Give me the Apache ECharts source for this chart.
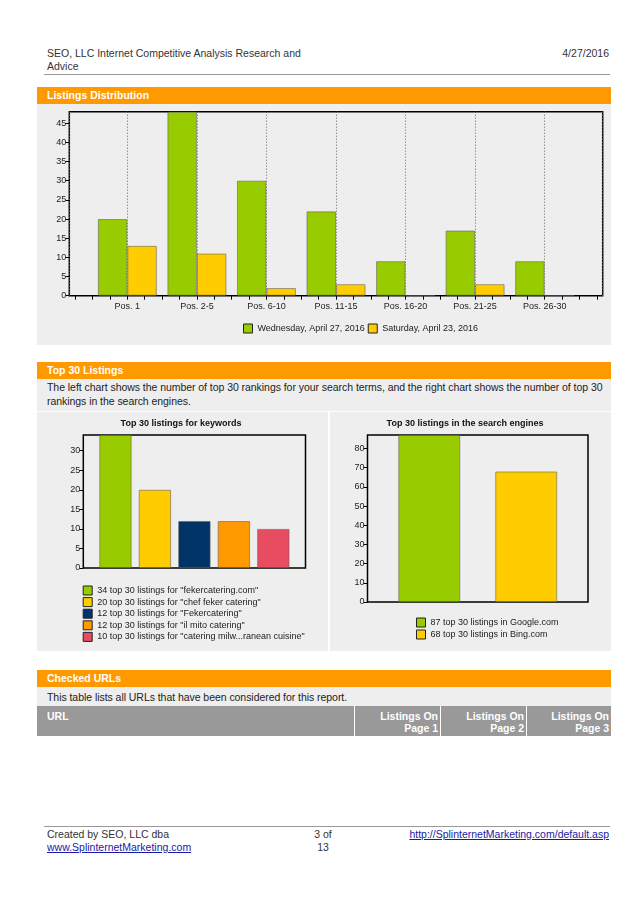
<!DOCTYPE html>
<html>
<head>
<meta charset="utf-8">
<script src="https://cdn.jsdelivr.net/npm/echarts@6/dist/echarts.min.js"></script>
<style>
  html, body { margin:0; padding:0; background:#fff; }
  body { width:638px; height:902px; position:relative; overflow:hidden;
         font-family:"Liberation Sans", Arial, sans-serif; color:#333; }
  .abs { position:absolute; }
  .hdr { font-size:10.5px; line-height:13px; color:#333; }
  .bar { background:#ff9900; color:#fff; font-weight:bold; font-size:10.5px;
         line-height:17px; height:17px; left:37px; width:574px; box-sizing:border-box; padding-left:10px; }
  .gray { background:#eeeeee; }
  .desc { font-size:10.5px; line-height:14px; color:#222; box-sizing:border-box; padding:1px 4px 0 10px; white-space:nowrap; letter-spacing:-0.05px; }
  .th { background:#999999; color:#fff; font-weight:bold; font-size:10.5px; line-height:12px;
        top:706px; height:30px; box-sizing:border-box; padding-top:4px; }
  .thr { text-align:right; padding-right:2px; }
  a { color:#1a1aa6; }
  #chart { position:absolute; left:0; top:0; width:638px; height:902px; z-index:2; }
</style>
</head>
<body>
<div class="abs hdr" style="left:47px;top:47px;">SEO, LLC Internet Competitive Analysis Research and<br>Advice</div>
<div class="abs hdr" style="right:29px;top:47px;">4/27/2016</div>
<div class="abs" style="left:44px;top:74px;width:566px;height:1px;background:#999;"></div>

<div class="abs bar" style="top:87px;">Listings Distribution</div>
<div class="abs gray" style="left:37px;top:104px;width:574px;height:241px;"></div>

<div class="abs bar" style="top:362px;">Top 30 Listings</div>
<div class="abs gray desc" style="left:37px;top:379px;width:574px;height:32px;">The left chart shows the number of top 30 rankings for your search terms, and the right chart shows the number of top 30<br>rankings in the search engines.</div>
<div class="abs gray" style="left:37px;top:412px;width:291px;height:239px;"></div>
<div class="abs gray" style="left:330px;top:412px;width:281px;height:239px;"></div>

<div class="abs bar" style="top:670px;">Checked URLs</div>
<div class="abs gray desc" style="left:37px;top:687px;width:574px;height:19px;padding-top:3px;">This table lists all URLs that have been considered for this report.</div>
<div class="abs th" style="left:37px;width:317px;padding-left:10px;">URL</div>
<div class="abs th thr" style="left:355px;width:85px;">Listings On<br>Page 1</div>
<div class="abs th thr" style="left:441px;width:85px;">Listings On<br>Page 2</div>
<div class="abs th thr" style="left:527px;width:84px;">Listings On<br>Page 3</div>

<div class="abs" style="left:44px;top:826px;width:566px;height:1px;background:#999;"></div>
<div class="abs hdr" style="left:47px;top:828px;">Created by SEO, LLC dba<br><a href="#">www.SplinternetMarketing.com</a></div>
<div class="abs hdr" style="left:298px;top:828px;width:50px;text-align:center;">3 of<br>13</div>
<div class="abs hdr" style="right:29px;top:828px;"><a href="#">http://SplinternetMarketing.com/default.asp</a></div>

<div id="chart"></div>
<script>
// ---- data ----
const categories = ['Pos. 1', 'Pos. 2-5', 'Pos. 6-10', 'Pos. 11-15', 'Pos. 16-20', 'Pos. 21-25', 'Pos. 26-30'];
const wedValues = [20, 48, 30, 22, 9, 17, 9];
const satValues = [13, 11, 2, 3, 0, 3, 0];
const dateNames = ['Wednesday, April 27, 2016', 'Saturday, April 23, 2016'];
const yTicks1 = [0, 5, 10, 15, 20, 25, 30, 35, 40, 45];

const keywords = ['fekercatering.com', 'chef feker catering', 'Fekercatering', 'il mito catering', 'catering milw...ranean cuisine'];
const keywordValues = [34, 20, 12, 12, 10];
const yTicks2 = [0, 5, 10, 15, 20, 25, 30];

const engines = ['Google.com', 'Bing.com'];
const engineValues = [87, 68];
const yTicks3 = [0, 10, 20, 30, 40, 50, 60, 70, 80];

// ---- styles ----
const FONT = '"Liberation Sans", Arial, sans-serif';
const kwColors = ['#99cc00', '#ffcc00', '#003366', '#ff9900', '#e84c61'];
const engColors = ['#99cc00', '#ffcc00'];
const border = { borderColor: 'rgba(90,90,90,0.55)', borderWidth: 1 };

const catPos = categories.map((c, i) => i + 1);
const quarterTicks = [];
for (let i = 1; i <= 31; i++) quarterTicks.push(i * 0.25);

const kwNames = keywords.map((k, i) => keywordValues[i] + ' top 30 listings for "' + k + '"');
const engNames = engines.map((e, i) => engineValues[i] + ' top 30 listings in ' + e);

const chart = echarts.init(document.getElementById('chart'), null, { renderer: 'canvas' });

const gridBase = { show: true, borderColor: '#000', borderWidth: 1.5, backgroundColor: 'transparent', containLabel: false };
const yAxisBase = (gi, max, ticks) => ({
  gridIndex: gi, type: 'value', min: 0, max: max,
  axisLine: { show: false },
  axisTick: { show: true, customValues: ticks, length: 4, lineStyle: { color: '#000', width: 1 } },
  axisLabel: { customValues: ticks, fontSize: 9, color: '#222', margin: 3, fontFamily: FONT },
  splitLine: { show: false }
});
const legendBase = {
  icon: 'rect', itemWidth: 9, itemHeight: 9, padding: 0,
  textStyle: { fontSize: 9, color: '#222', fontFamily: FONT },
  itemStyle: { borderColor: '#222', borderWidth: 1 },
  selectedMode: false
};

const series = [];
series.push({
  type: 'bar', name: dateNames[0], xAxisIndex: 0, yAxisIndex: 0,
  data: wedValues.map((v, i) => [catPos[i], v]),
  barWidth: 29.5, barGap: '0%',
  itemStyle: Object.assign({ color: '#99cc00' }, border)
});
series.push({
  type: 'bar', name: dateNames[1], xAxisIndex: 0, yAxisIndex: 0,
  data: satValues.map((v, i) => [catPos[i], v]),
  barWidth: 29.5, barGap: '0%',
  itemStyle: Object.assign({ color: '#ffcc00' }, border)
});
keywordValues.forEach((v, i) => {
  series.push({
    type: 'bar', name: kwNames[i], xAxisIndex: 2, yAxisIndex: 1,
    data: [[i + 1, v]], barWidth: 32.4, barGap: '-100%',
    itemStyle: Object.assign({ color: kwColors[i] }, border)
  });
});
engineValues.forEach((v, i) => {
  series.push({
    type: 'bar', name: engNames[i], xAxisIndex: 3, yAxisIndex: 2,
    data: [[i + 1, v]], barWidth: 62, barGap: '-100%',
    itemStyle: Object.assign({ color: engColors[i] }, border)
  });
});

chart.setOption({
  animation: false,
  textStyle: { fontFamily: FONT },
  grid: [
    Object.assign({ left: 69.3, top: 111.7, width: 533.4, height: 184 }, gridBase),
    Object.assign({ left: 83.3, top: 435, width: 222.2, height: 133 }, gridBase),
    Object.assign({ left: 367.5, top: 435, width: 220.5, height: 167 }, gridBase)
  ],
  xAxis: [
    {
      gridIndex: 0, type: 'value', min: 0.1655, max: 7.8345,
      axisLine: { show: false },
      axisTick: { show: true, customValues: quarterTicks, length: 4, lineStyle: { color: '#000', width: 1 } },
      axisLabel: { customValues: catPos, fontSize: 9, color: '#222', margin: 6, fontFamily: FONT,
                   formatter: v => categories[Math.round(v) - 1] || '' },
      splitLine: { show: false }
    },
    {
      gridIndex: 0, type: 'value', min: 0.1655, max: 7.8345, splitNumber: 7,
      axisLine: { show: false }, axisTick: { show: false }, axisLabel: { show: false },
      splitLine: { show: true, lineStyle: { color: '#666', type: [1, 2], width: 1 } }
    },
    { gridIndex: 1, type: 'value', min: 0.185, max: 5.815, show: false },
    { gridIndex: 2, type: 'value', min: 0.363, max: 2.637, show: false }
  ],
  yAxis: [
    yAxisBase(0, 48, yTicks1),
    yAxisBase(1, 34, yTicks2),
    yAxisBase(2, 87, yTicks3)
  ],
  legend: [
    Object.assign({ data: dateNames, orient: 'horizontal', left: 243, top: 323.5, itemGap: 3 }, legendBase),
    Object.assign({ data: kwNames, orient: 'vertical', left: 82.7, top: 585.5, itemGap: 1.6 }, legendBase),
    Object.assign({ data: engNames, orient: 'vertical', left: 416, top: 617.5, itemGap: 2 }, legendBase)
  ],
  graphic: [
    { type: 'text', x: 181, y: 424, style: { text: 'Top 30 listings for keywords', align: 'center', verticalAlign: 'middle',
      fontSize: 9, fontWeight: 'bold', fontFamily: FONT, fill: '#111' } },
    { type: 'text', x: 465, y: 424, style: { text: 'Top 30 listings in the search engines', align: 'center', verticalAlign: 'middle',
      fontSize: 9, fontWeight: 'bold', fontFamily: FONT, fill: '#111' } }
  ],
  series: series
});
</script>
</body>
</html>
